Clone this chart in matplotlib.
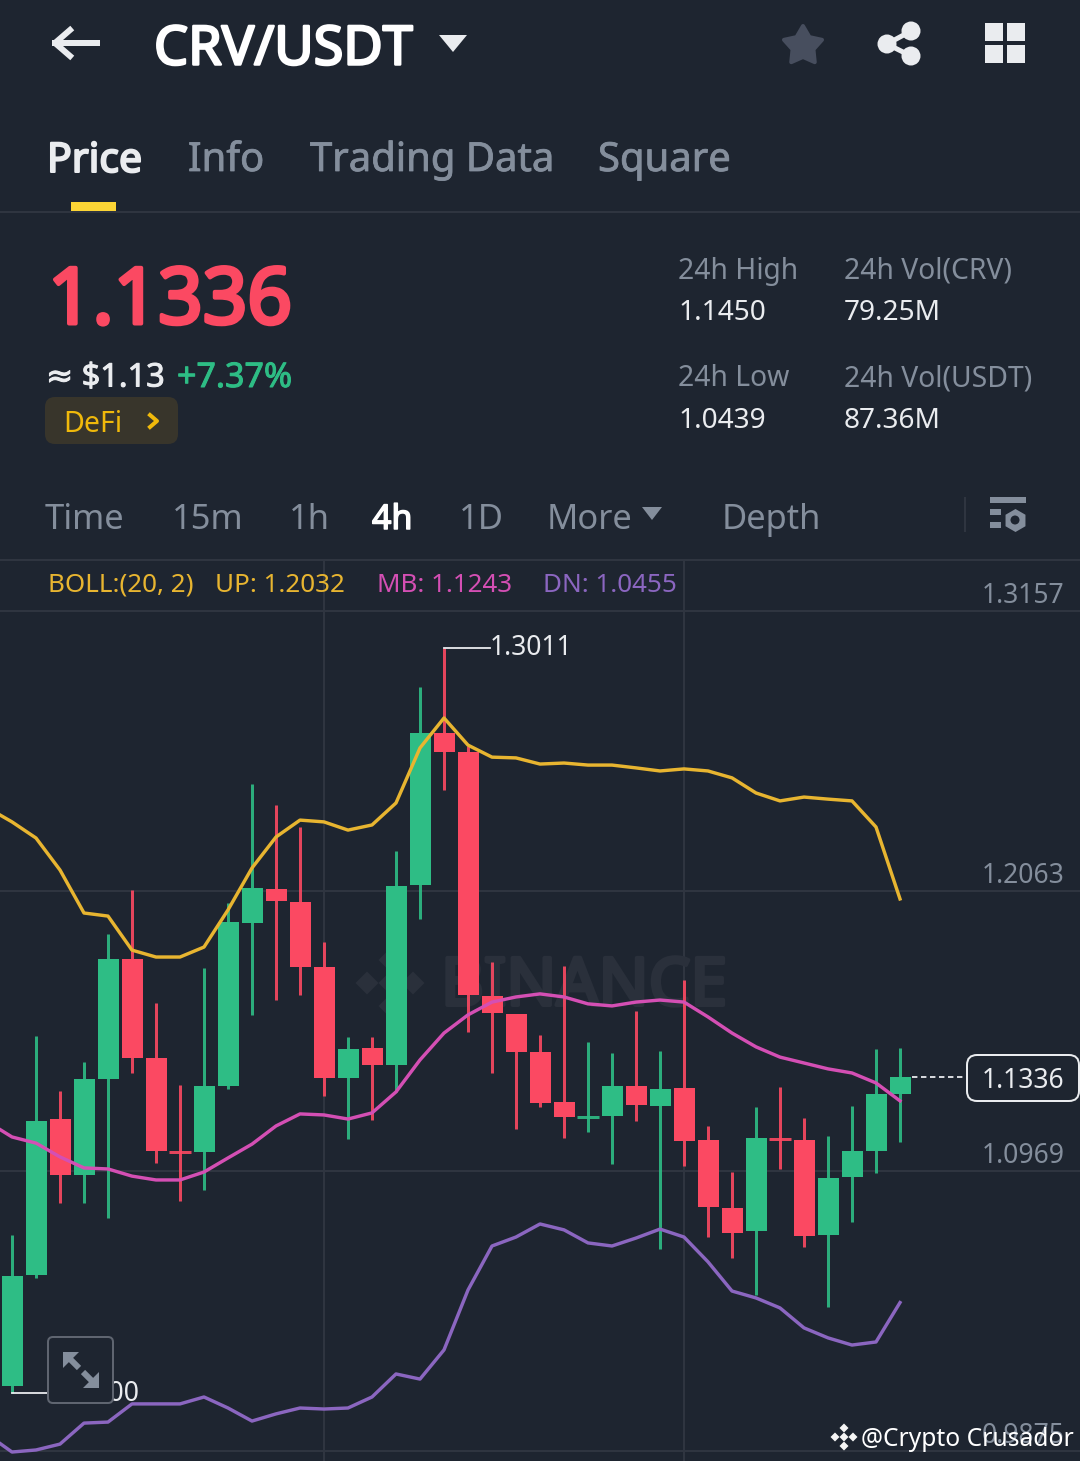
import numpy as np
import matplotlib
matplotlib.use("Agg")
import matplotlib.pyplot as plt
import matplotlib.patheffects as pe
from matplotlib.patches import Polygon, FancyBboxPatch, Circle, Rectangle

plt.rcParams['font.family'] = ['Noto Sans', 'DejaVu Sans']

BG = "#1e2530"
GRID = "#2f3540"
UP = "#2ebd85"
DOWN = "#fb4962"
GRAY = "#848e9c"
WHITE = "#eaecef"
C_UP = "#e8b530"
C_MB = "#d44fb4"
C_DN = "#8b66c0"
PX = 0.72  # 1 px in points at dpi 100

# 4h candles, left to right
opens = [1.0129, 1.0563, 1.1172, 1.0953, 1.1328, 1.1797, 1.1411, 1.1047, 1.1043, 1.1301,
         1.1938, 1.2071, 1.2020, 1.1766, 1.1332, 1.1450, 1.1383, 1.2086, 1.2680, 1.2606,
         1.1653, 1.1582, 1.1434, 1.1239, 1.1180, 1.1184, 1.1301, 1.1223, 1.1293, 1.1090,
         1.0824, 1.0735, 1.1095, 1.1090, 1.0719, 1.0946, 1.1047, 1.1270]
closes = [1.0559, 1.1164, 1.0953, 1.1328, 1.1797, 1.1411, 1.1047, 1.1043, 1.1301, 1.1942,
          1.2075, 1.2024, 1.1766, 1.1332, 1.1446, 1.1383, 1.2083, 1.2680, 1.2606, 1.1657,
          1.1586, 1.1434, 1.1235, 1.1180, 1.1182, 1.1301, 1.1227, 1.1289, 1.1086, 1.0828,
          1.0727, 1.1098, 1.1093, 1.0715, 1.0942, 1.1047, 1.1270, 1.1336]
highs = [1.0719, 1.1496, 1.1282, 1.1395, 1.1895, 1.2067, 1.1625, 1.1305, 1.1762, 1.2016,
         1.2481, 1.2399, 1.2313, 1.1864, 1.1493, 1.1493, 1.2219, 1.2860, 1.3011, 1.2630,
         1.1786, 1.1582, 1.1500, 1.1770, 1.1473, 1.1430, 1.1594, 1.1438, 1.1715, 1.1145,
         1.0965, 1.1219, 1.1297, 1.1176, 1.1106, 1.1223, 1.1446, 1.1450]
lows = [1.0100, 1.0551, 1.0844, 1.0844, 1.0785, 1.1352, 1.1000, 1.0852, 1.0895, 1.1289,
        1.1579, 1.1637, 1.1657, 1.1262, 1.1094, 1.1168, 1.1278, 1.1954, 1.2458, 1.1512,
        1.1352, 1.1133, 1.1219, 1.1098, 1.1121, 1.0996, 1.1164, 1.0664, 1.0989, 1.0711,
        1.0629, 1.0485, 1.0977, 1.0672, 1.0438, 1.0770, 1.0961, 1.1082]

# Bollinger bands, they start one candle off the left edge
boll_up = [1.2387, 1.2333, 1.2270, 1.2145, 1.1977, 1.1965, 1.1832, 1.1805, 1.1805, 1.1844,
           1.1989, 1.2153, 1.2274, 1.2340, 1.2333, 1.2301, 1.2321, 1.2407, 1.2622, 1.2739,
           1.2633, 1.2586, 1.2583, 1.2559, 1.2563, 1.2555, 1.2555, 1.2544, 1.2532, 1.2540,
           1.2532, 1.2505, 1.2446, 1.2415, 1.2430, 1.2422, 1.2415, 1.2313, 1.2032]
boll_mb = [1.1160, 1.1102, 1.1078, 1.1024, 1.0981, 1.0977, 1.0949, 1.0934, 1.0934, 1.0965,
           1.1020, 1.1074, 1.1145, 1.1192, 1.1188, 1.1172, 1.1196, 1.1278, 1.1403, 1.1508,
           1.1579, 1.1629, 1.1649, 1.1661, 1.1649, 1.1622, 1.1614, 1.1629, 1.1637, 1.1629,
           1.1571, 1.1508, 1.1454, 1.1414, 1.1391, 1.1368, 1.1352, 1.1313, 1.1243]
boll_dn = [0.9938, 0.9871, 0.9879, 0.9902, 0.9984, 0.9988, 1.0059, 1.0059, 1.0059, 1.0086,
           1.0043, 0.9992, 1.0020, 1.0043, 1.0039, 1.0043, 1.0086, 1.0176, 1.0156, 1.0270,
           1.0504, 1.0676, 1.0711, 1.0762, 1.0739, 1.0688, 1.0676, 1.0707, 1.0742, 1.0711,
           1.0614, 1.0500, 1.0473, 1.0434, 1.0356, 1.0317, 1.0289, 1.0301, 1.0455]

price_ticks = [1.3157, 1.2063, 1.0969, 0.9875]
time_ticks = [13, 28]

tabs = [("Price", 47, WHITE), ("Info", 188, GRAY), ("Trading Data", 310, GRAY), ("Square", 598, GRAY)]
ranges = [("Time", 45), ("15m", 172), ("1h", 289), ("4h", 372), ("1D", 459), ("More", 547), ("Depth", 722)]
stats = [("24h High", "1.1450", 678, 271), ("24h Vol(CRV)", "79.25M", 844, 271),
         ("24h Low", "1.0439", 678, 379), ("24h Vol(USDT)", "87.36M", 844, 379)]

fig = plt.figure(figsize=(10.8, 14.61), dpi=100, facecolor=BG)

# pixel layer for the app chrome, drawn above the chart
ui = fig.add_axes([0, 0, 1, 1], zorder=3)
ui.set_xlim(0, 1080)
ui.set_ylim(1461, 0)
ui.axis("off")

ax = fig.add_axes([0, 0, 1, 900 / 1461], zorder=1, facecolor=BG)
per_px = (price_ticks[0] - price_ticks[3]) / 840
ax.set_ylim(price_ticks[3] - 10 * per_px, price_ticks[0] + 50 * per_px)
ax.set_xlim(-0.5, 44.5)
ax.set_yticks(price_ticks)
ax.set_xticks(time_ticks)
ax.tick_params(length=0, labelleft=False, labelbottom=False)
ax.grid(True, color=GRID, lw=2 * PX)
ax.set_axisbelow(True)
for s in ax.spines.values():
    s.set_visible(False)


def fatten(t, color, stroke):
    # Noto Sans only comes in one weight here, thicken with an outline
    if stroke:
        t.set_path_effects([pe.withStroke(linewidth=stroke * PX, foreground=color)])
    return t


def label(x, y, s, size, color=WHITE, stroke=0, ha="left", zorder=5):
    t = ui.text(x, y, s, fontsize=size * PX, color=color, ha=ha, va="center", zorder=zorder)
    return fatten(t, color, stroke)


def logo(target, cx, cy, r, color, zorder):
    # five small diamonds
    k = 0.5 * r
    for dx, dy in [(0, 0), (-r, 0), (r, 0), (0, -r), (0, r)]:
        target.add_patch(Polygon([(cx + dx - k, cy + dy), (cx + dx, cy + dy - k),
                                  (cx + dx + k, cy + dy), (cx + dx, cy + dy + k)],
                                 fc=color, ec="none", transform=ui.transData, zorder=zorder))


# watermark behind the candles
wm = ax.text(584, 988, "BINANCE", transform=ui.transData, fontsize=66 * PX, color="#2a303b",
             ha="center", va="center", zorder=1)
fatten(wm, "#2a303b", 4)
logo(ax, 390, 983, 23, "#2a303b", 1)

# candles
for i in range(len(opens)):
    o, c, h, l = opens[i], closes[i], highs[i], lows[i]
    col = UP if c >= o else DOWN
    ax.vlines(i, l, h, color=col, lw=3 * PX, zorder=2, alpha=0.9)
    if abs(c - o) < 0.001:
        ax.hlines((o + c) / 2, i - 0.44, i + 0.44, color=col, lw=3 * PX, zorder=3, alpha=0.9)
    else:
        ax.bar(i, abs(c - o), bottom=min(o, c), width=0.875, color=col, lw=0, zorder=3)

# bands
bx = np.arange(-1, len(closes))
ax.plot(bx, boll_up, color=C_UP, lw=3.4 * PX, zorder=4)
ax.plot(bx, boll_mb, color=C_MB, lw=3.4 * PX, zorder=4)
ax.plot(bx, boll_dn, color=C_DN, lw=3.4 * PX, zorder=4)

# axis labels sit just above their gridlines
for t in price_ticks:
    ax.annotate(f"{t:.4f}", xy=(1064.5 / 1080, t), xycoords=ax.get_yaxis_transform(),
                xytext=(0, 15 * PX), textcoords="offset points", ha="right", va="center",
                fontsize=26.5 * PX, color=GRAY, zorder=1)

# high / low callouts
hi = int(np.argmax(highs))
ax.plot([hi, hi + 1.92], [highs[hi]] * 2, color=WHITE, lw=1.8 * PX, zorder=5)
ax.annotate(f"{highs[hi]:.4f}", xy=(hi + 1.9, highs[hi]), xytext=(0, 0),
            textcoords="offset points", ha="left", va="center",
            fontsize=26.5 * PX, color=WHITE, zorder=5)
lo = 0
ax.plot([lo, lo + 2], [lows[lo]] * 2, color=WHITE, lw=1.8 * PX, zorder=5)
ax.annotate(f"{lows[lo]:.4f}", xy=(lo + 1.88, lows[lo]), xytext=(0, -1 * PX),
            textcoords="offset points", ha="left", va="center",
            fontsize=26.5 * PX, color=WHITE, zorder=5)

# last price
ax.hlines(closes[-1], 37.5, 39.75, color=WHITE, lw=1.8 * PX, linestyles=(0, (3, 2)), zorder=5)
ui.add_patch(FancyBboxPatch((967, 1055), 112, 46, boxstyle="round,pad=0,rounding_size=10",
                            fc=BG, ec=WHITE, lw=2 * PX, zorder=5))
label(1023.5, 1081, f"{closes[-1]:.4f}", 26.5, WHITE, ha="center", zorder=6)

# expand button covers the low callout
ui.add_patch(FancyBboxPatch((48, 1337), 65, 66, boxstyle="round,pad=0,rounding_size=5",
                            fc=BG, ec="#5f6570", lw=2 * PX, zorder=5))
ui.add_patch(Polygon([(63, 1352), (79, 1352), (63, 1368)], fc=GRAY, ec="none", zorder=6))
ui.add_patch(Polygon([(99, 1388), (83, 1388), (99, 1372)], fc=GRAY, ec="none", zorder=6))
ui.plot([68, 79], [1357, 1368], color=GRAY, lw=6 * PX, solid_capstyle="butt", zorder=6)
ui.plot([83, 94], [1372, 1383], color=GRAY, lw=6 * PX, solid_capstyle="butt", zorder=6)

# header
ui.plot([70, 55, 70], [30, 43, 56], color=WHITE, lw=6 * PX, zorder=5)
ui.plot([55, 97], [43, 43], color=WHITE, lw=6 * PX, zorder=5)
label(154, 50, "CRV/USDT", 54, "#ffffff", 2.5)
ui.add_patch(Polygon([(439, 35), (467, 35), (453, 52)], fc=WHITE, ec="none"))
ang = np.pi / 2 + np.arange(10) * np.pi / 5
rad = np.where(np.arange(10) % 2 == 0, 20, 11)
ui.add_patch(Polygon(np.c_[803 + rad * np.cos(ang), 46 - rad * np.sin(ang)], fc="#474e5e",
                     ec="#474e5e", lw=4 * PX, joinstyle="round"))
for p in [(911, 31), (911, 56)]:
    ui.plot([887, p[0]], [44, p[1]], color=WHITE, lw=5 * PX)
    ui.add_patch(Circle(p, 9.5, fc=WHITE, ec="none"))
ui.add_patch(Circle((887, 44), 9.5, fc=WHITE, ec="none"))
for x0 in (985, 1007):
    for y0 in (23, 45):
        ui.add_patch(Rectangle((x0, y0), 18, 18, fc=WHITE, ec="none"))

# tabs
for name, x, col in tabs:
    label(x, 161, name, 41 if name == "Price" else 40, col, 2 if name == "Price" else 0.8)
ui.add_patch(Rectangle((71, 202), 45, 9, fc="#fcd535", ec="none"))
ui.add_patch(Rectangle((0, 211), 1080, 2, fc=GRID, ec="none"))

# price block
label(48, 303, "1.1336", 78, DOWN, 4)
label(46, 378, "≈ $1.13", 32.5, WHITE, 1)
label(177, 378, "+7.37%", 34, UP, 1)
ui.add_patch(FancyBboxPatch((45, 397), 133, 47, boxstyle="round,pad=0,rounding_size=10",
                            fc="#38352b", ec="none"))
label(63, 424, "DeFi", 28.5, "#f0b90b")
ui.plot([150, 157, 150], [415, 421, 427], color="#f0b90b", lw=4 * PX)

for head, val, x, y in stats:
    label(x, y, head, 28.3, GRAY)
    label(x, y + 42, val, 28, WHITE)

# interval bar
for name, x in ranges:
    if name == "4h":
        label(x, 520, name, 34, "#ffffff", 1.5)
    else:
        label(x, 520, name, 34.5, GRAY)
ui.add_patch(Polygon([(642, 507), (662, 507), (652, 520)], fc=GRAY, ec="none"))
ui.add_patch(Rectangle((964, 497), 2, 35, fc=GRID, ec="none"))
ui.add_patch(Rectangle((990, 497), 36, 6, fc=GRAY, ec="none"))
ui.add_patch(Rectangle((990, 509), 11, 6, fc=GRAY, ec="none"))
ui.add_patch(Rectangle((990, 522), 11, 6, fc=GRAY, ec="none"))
ui.plot([1015], [520], marker="h", ms=23 * PX, color=GRAY, mec="none")
ui.add_patch(Circle((1015, 520), 4.5, fc=BG, ec="none", zorder=3))
ui.add_patch(Rectangle((0, 559), 1080, 2, fc=GRID, ec="none"))

# indicator legend
label(48, 585, "BOLL:(20, 2)", 26, C_UP)
label(215, 585, f"UP: {boll_up[-1]:.4f}", 26, C_UP)
label(377, 585, f"MB: {boll_mb[-1]:.4f}", 26, C_MB)
label(543, 585, f"DN: {boll_dn[-1]:.4f}", 26, C_DN)

# credit stamp
logo(ui, 844, 1437, 9, "#f5f5f5", 6)
label(861, 1440, "@Crypto Crusador", 24.6, "#ffffff", zorder=6)

fig.savefig("out.png", dpi=100, facecolor=BG)
